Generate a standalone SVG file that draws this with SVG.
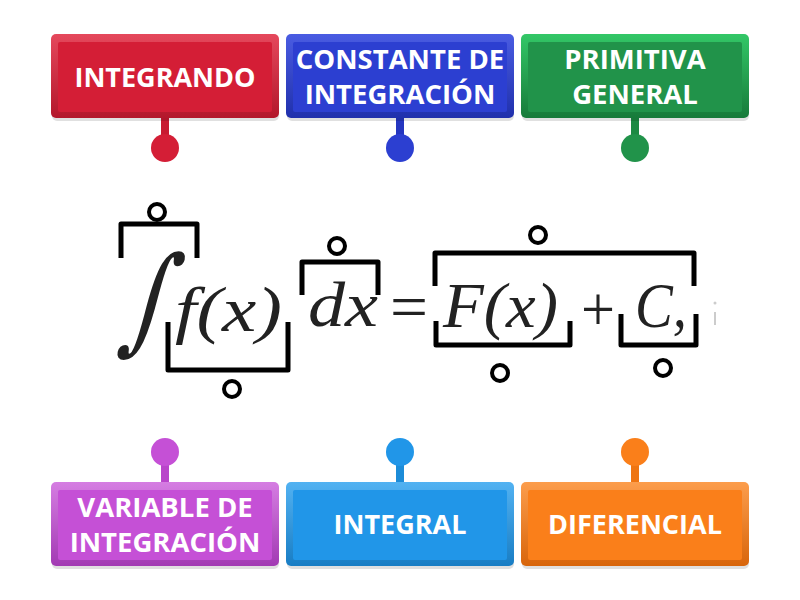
<svg xmlns="http://www.w3.org/2000/svg" width="800" height="600" viewBox="0 0 800 600">
<defs>
<style>
.lbl{font-family:"Open Sans","Liberation Sans",sans-serif;font-weight:700;fill:#ffffff;text-anchor:middle}
.s1{font-size:27px}
.s2{font-size:27.5px}
.shadow{fill:#000;opacity:0.12}
.math{font-family:"Liberation Serif","DejaVu Serif",serif;font-style:italic;font-size:64px;fill:#222}
.mathu{font-family:"Liberation Serif","DejaVu Serif",serif;font-size:64px;fill:#222}
.integ{font-family:"DejaVu Serif",serif;font-size:116px;fill:#222;text-anchor:middle}
.br{fill:none;stroke:#000;stroke-width:5;stroke-linejoin:round;stroke-linecap:butt}
.ring{fill:#fff;stroke:#000;stroke-width:4}
</style>
<linearGradient id="gRed" x1="0" y1="0" x2="0" y2="1"><stop offset="0" stop-color="#e5485c"/><stop offset="1" stop-color="#b3172b"/></linearGradient>
<linearGradient id="gBlue" x1="0" y1="0" x2="0" y2="1"><stop offset="0" stop-color="#4a5ce2"/><stop offset="1" stop-color="#2030ac"/></linearGradient>
<linearGradient id="gGreen" x1="0" y1="0" x2="0" y2="1"><stop offset="0" stop-color="#33c767"/><stop offset="1" stop-color="#177a3a"/></linearGradient>
<linearGradient id="gPurple" x1="0" y1="0" x2="0" y2="1"><stop offset="0" stop-color="#d57de2"/><stop offset="1" stop-color="#a23ab3"/></linearGradient>
<linearGradient id="gSky" x1="0" y1="0" x2="0" y2="1"><stop offset="0" stop-color="#52b2f2"/><stop offset="1" stop-color="#187dc4"/></linearGradient>
<linearGradient id="gOrange" x1="0" y1="0" x2="0" y2="1"><stop offset="0" stop-color="#fc9d4c"/><stop offset="1" stop-color="#d8650b"/></linearGradient>
</defs>
<rect width="800" height="600" fill="#ffffff"/>

<g id="formula">
<text class="integ" transform="translate(143,339) skewX(-14) scale(0.8,1)" x="0" y="0">∫</text>
<text class="math" x="175" y="331" textLength="107" lengthAdjust="spacingAndGlyphs">f(x)</text>
<text class="math" x="308" y="326" textLength="70" lengthAdjust="spacingAndGlyphs">dx</text>
<text class="mathu" x="390" y="328" textLength="38" lengthAdjust="spacingAndGlyphs">=</text>
<text class="math" x="443" y="327" textLength="115" lengthAdjust="spacingAndGlyphs">F(x)</text>
<text class="mathu" x="581" y="331" textLength="34" lengthAdjust="spacingAndGlyphs">+</text>
<text class="math" x="635" y="327" textLength="52" lengthAdjust="spacingAndGlyphs">C,</text>
<circle cx="715" cy="303" r="1.5" fill="#ccc"/>
<rect x="714" y="312" width="2" height="13" fill="#ccc"/>
</g>

<g id="targets">
<path class="br" d="M121,258 V224 H197 V258"/>
<circle class="ring" cx="157" cy="212" r="8"/>
<path class="br" d="M168,322 V370 H288 V322"/>
<circle class="ring" cx="232" cy="389" r="8"/>
<path class="br" d="M302,295 V262 H378 V295"/>
<circle class="ring" cx="337" cy="246" r="8"/>
<path class="br" d="M435,286 V253 H694 V286"/>
<circle class="ring" cx="538" cy="235" r="8"/>
<path class="br" d="M436,321 V345 H570 V321"/>
<circle class="ring" cx="500" cy="373" r="8"/>
<path class="br" d="M621,314 V345 H696 V314"/>
<circle class="ring" cx="663" cy="368" r="8"/>
</g>

<g id="connectors">
<rect x="161" y="116" width="8" height="26" fill="#c81a31"/>
<circle cx="165" cy="148" r="14" fill="#d41e36"/>
<rect x="396" y="116" width="8" height="26" fill="#2536c0"/>
<circle cx="400" cy="148" r="14" fill="#2c3fd1"/>
<rect x="631" y="116" width="8" height="26" fill="#1c8a43"/>
<circle cx="635" cy="148" r="14" fill="#21934a"/>
<rect x="161" y="458" width="8" height="26" fill="#b945ca"/>
<circle cx="165" cy="452" r="14" fill="#c550d6"/>
<rect x="396" y="458" width="8" height="26" fill="#1c8cd8"/>
<circle cx="400" cy="452" r="14" fill="#2196e8"/>
<rect x="631" y="458" width="8" height="26" fill="#ee7512"/>
<circle cx="635" cy="452" r="14" fill="#fa7f1a"/>
</g>

<g id="node-integrando">
<rect class="shadow" x="52" y="37" width="227" height="84" rx="5"/>
<rect x="51" y="34" width="228" height="84" rx="5" fill="url(#gRed)"/>
<rect x="58" y="42" width="214" height="70" rx="2" fill="#d41e36"/>
<text class="lbl s1" x="165" y="87">INTEGRANDO</text>
</g>
<g id="node-constante">
<rect class="shadow" x="287" y="37" width="227" height="84" rx="5"/>
<rect x="286" y="34" width="228" height="84" rx="5" fill="url(#gBlue)"/>
<rect x="293" y="42" width="214" height="70" rx="2" fill="#2c3fd1"/>
<text class="lbl s2" x="400" y="69">CONSTANTE DE</text>
<text class="lbl s2" x="400" y="104">INTEGRACIÓN</text>
</g>
<g id="node-primitiva">
<rect class="shadow" x="522" y="37" width="227" height="84" rx="5"/>
<rect x="521" y="34" width="228" height="84" rx="5" fill="url(#gGreen)"/>
<rect x="528" y="42" width="214" height="70" rx="2" fill="#21934a"/>
<text class="lbl s2" x="635" y="69">PRIMITIVA</text>
<text class="lbl s2" x="635" y="104">GENERAL</text>
</g>
<g id="node-variable">
<rect class="shadow" x="52" y="485" width="227" height="84" rx="5"/>
<rect x="51" y="482" width="228" height="84" rx="5" fill="url(#gPurple)"/>
<rect x="58" y="490" width="214" height="70" rx="2" fill="#c550d6"/>
<text class="lbl s2" x="165" y="517">VARIABLE DE</text>
<text class="lbl s2" x="165" y="552">INTEGRACIÓN</text>
</g>
<g id="node-integral">
<rect class="shadow" x="287" y="485" width="227" height="84" rx="5"/>
<rect x="286" y="482" width="228" height="84" rx="5" fill="url(#gSky)"/>
<rect x="293" y="490" width="214" height="70" rx="2" fill="#2196e8"/>
<text class="lbl s1" x="400" y="534">INTEGRAL</text>
</g>
<g id="node-diferencial">
<rect class="shadow" x="522" y="485" width="227" height="84" rx="5"/>
<rect x="521" y="482" width="228" height="84" rx="5" fill="url(#gOrange)"/>
<rect x="528" y="490" width="214" height="70" rx="2" fill="#fa7f1a"/>
<text class="lbl s1" x="635" y="534">DIFERENCIAL</text>
</g>
</svg>
